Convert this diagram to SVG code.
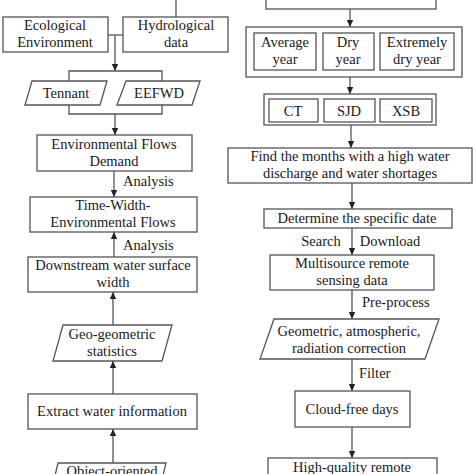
<svg xmlns="http://www.w3.org/2000/svg" width="474" height="474" viewBox="0 0 474 474">
<defs>
<marker id="ah" markerWidth="8" markerHeight="8" refX="7" refY="4" orient="auto" markerUnits="userSpaceOnUse">
<path d="M0,0.8 L7,4 L0,7.2 Z" fill="#222"/>
</marker>
<style>
.b{fill:#fff;stroke:#555;stroke-width:1.3}
.l{fill:none;stroke:#555;stroke-width:1.3}
.a{fill:none;stroke:#555;stroke-width:1.3;marker-end:url(#ah)}
text{font-family:"Liberation Serif","Times New Roman",serif;font-size:14.5px;fill:#1a1a1a;text-anchor:middle}
.st{text-anchor:start}
</style>
</defs>
<rect width="474" height="474" fill="#fff"/>
<g id="connectors">
<path class="l" d="M176,0 V17"/>
<path class="l" d="M108,35 H123"/>
<path class="a" d="M115,35 V71"/>
<path class="l" d="M69,81 V71 H162 V81"/>
<path class="l" d="M69,105 V114 H162 V105"/>
<path class="a" d="M115,114 V135"/>
<path class="a" d="M114,171 V197"/>
<path class="a" d="M114,257 V232"/>
<path class="a" d="M113,325 V292"/>
<path class="a" d="M113,394 V361"/>
<path class="a" d="M113,463 V429"/>
<path class="a" d="M350,9 V27"/>
<path class="a" d="M350,77 V94"/>
<path class="a" d="M351,125 V148"/>
<path class="a" d="M352,183 V209"/>
<path class="a" d="M352,228 V255"/>
<path class="a" d="M352,290 V319"/>
<path class="a" d="M352,359 V391"/>
<path class="a" d="M352,427 V458"/>
<text class="st" x="123" y="186">Analysis</text>
<text class="st" x="123" y="250">Analysis</text>
<text x="321" y="246">Search</text>
<text x="390" y="246">Download</text>
<text class="st" x="362" y="307">Pre-process</text>
<text class="st" x="359" y="378">Filter</text>
</g>
<g id="eco"><rect class="b" x="3" y="17" width="105" height="35"/><text x="55" y="30">Ecological</text><text x="55" y="47">Environment</text></g>
<g id="hydro"><rect class="b" x="123" y="17" width="105" height="35"/><text x="176" y="30">Hydrological</text><text x="176" y="47">data</text></g>
<g id="tennant"><polygon class="b" points="32,81 107,81 100,105 25,105"/><text x="66" y="98">Tennant</text></g>
<g id="eefwd"><polygon class="b" points="126,81 200,81 192,105 117,105"/><text x="159" y="98">EEFWD</text></g>
<g id="efd"><rect class="b" x="37" y="135" width="155" height="36"/><text x="114" y="149">Environmental Flows</text><text x="114" y="166">Demand</text></g>
<g id="twef"><rect class="b" x="30" y="197" width="167" height="35"/><text x="113" y="210">Time-Width-</text><text x="113" y="227">Environmental Flows</text></g>
<g id="dwsw"><rect class="b" x="28" y="257" width="169" height="35"/><text x="113" y="270">Downstream water surface</text><text x="113" y="287">width</text></g>
<g id="geo"><polygon class="b" points="63,325 172,325 162,361 53,361"/><text x="112" y="339">Geo-geometric</text><text x="112" y="356">statistics</text></g>
<g id="extract"><rect class="b" x="28" y="394" width="169" height="35"/><text x="112" y="416">Extract water information</text></g>
<g id="obj"><polygon class="b" points="58,463 166,463 162,480 54,480"/><text x="112" y="476">Object-oriented</text></g>
<g id="topright"><rect class="b" x="266" y="-20" width="170" height="29"/></g>
<g id="years"><rect class="b" x="246" y="27" width="216" height="50"/>
<rect class="b" x="254" y="33" width="62" height="37"/><text x="285" y="47">Average</text><text x="285" y="64">year</text>
<rect class="b" x="323" y="33" width="51" height="37"/><text x="348" y="47">Dry</text><text x="348" y="64">year</text>
<rect class="b" x="380" y="33" width="74" height="37"/><text x="417" y="47">Extremely</text><text x="417" y="64">dry year</text></g>
<g id="stations"><rect class="b" x="264" y="94" width="172" height="31"/>
<rect class="b" x="269" y="99" width="49" height="23"/><text x="293" y="116">CT</text>
<rect class="b" x="324" y="99" width="51" height="23"/><text x="349" y="116">SJD</text>
<rect class="b" x="380" y="99" width="52" height="23"/><text x="406" y="116">XSB</text></g>
<g id="months"><rect class="b" x="228" y="148" width="244" height="35"/><text x="350" y="161">Find the months with a high water</text><text x="350" y="178">discharge and water shortages</text></g>
<g id="date"><rect class="b" x="264" y="209" width="188" height="19"/><text x="357" y="223">Determine the specific date</text></g>
<g id="msrs"><rect class="b" x="270" y="255" width="164" height="35"/><text x="352" y="268">Multisource remote</text><text x="352" y="285">sensing data</text></g>
<g id="corr"><polygon class="b" points="274,319 439,319 425,359 260,359"/><text x="349" y="336">Geometric, atmospheric,</text><text x="349" y="353">radiation  correction</text></g>
<g id="cloud"><rect class="b" x="295" y="391" width="115" height="36"/><text x="352" y="414">Cloud-free days</text></g>
<g id="hq"><rect class="b" x="268" y="458" width="169" height="30"/><text x="352" y="472">High-quality remote</text></g>
</svg>
